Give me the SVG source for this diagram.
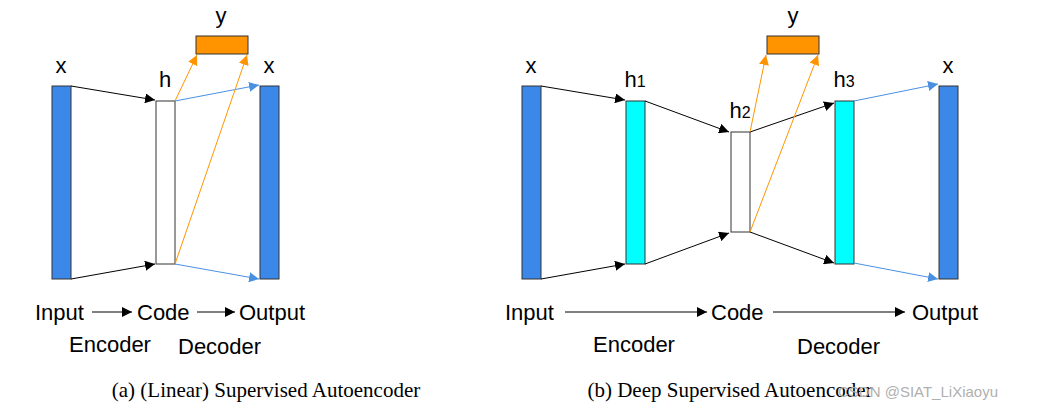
<svg xmlns="http://www.w3.org/2000/svg" width="1038" height="412" viewBox="0 0 1038 412">
<style>
text{font-family:"Liberation Sans",Arial,sans-serif;fill:#000}
.lbl{font-size:22px;text-anchor:middle}
.bot{font-size:22px}
.cap{font-family:"Liberation Serif","Times New Roman",serif;font-size:21px;text-anchor:middle}
.in{fill:#3b88e8;stroke:#333;stroke-width:1}
.hid{fill:#00ffff;stroke:#333;stroke-width:1}
.code{fill:#fff;stroke:#333;stroke-width:1}
.y{fill:#ff9400;stroke:#333;stroke-width:1}
.k{stroke:#000;stroke-width:1;fill:none;marker-end:url(#mk)}
.b{stroke:#4a90e2;stroke-width:1;fill:none;marker-end:url(#mb)}
.o{stroke:#ff9400;stroke-width:1;fill:none;marker-end:url(#mo)}
</style>
<defs>
<marker id="mk" viewBox="0 0 10 10" refX="10" refY="5" markerWidth="10" markerHeight="10" markerUnits="userSpaceOnUse" orient="auto"><path d="M0,0L10,5L0,10z" fill="#000"/></marker>
<marker id="mb" viewBox="0 0 10 10" refX="10" refY="5" markerWidth="10" markerHeight="10" markerUnits="userSpaceOnUse" orient="auto"><path d="M0,0L10,5L0,10z" fill="#4a90e2"/></marker>
<marker id="mo" viewBox="0 0 10 10" refX="10" refY="5" markerWidth="10" markerHeight="10" markerUnits="userSpaceOnUse" orient="auto"><path d="M0,0L10,5L0,10z" fill="#ff9400"/></marker>
</defs>
<rect width="1038" height="412" fill="#fff"/>
<g id="a-x-in"><rect class="in" x="52" y="86" width="19" height="193"/><text class="lbl" x="61" y="73">x</text></g>
<g id="a-h"><rect class="code" x="156" y="101" width="19" height="163"/><text class="lbl" x="165" y="87">h</text></g>
<g id="a-x-out"><rect class="in" x="260" y="86" width="19" height="193"/><text class="lbl" x="269" y="73">x</text></g>
<g id="a-y"><rect class="y" x="196" y="36" width="52" height="18"/><text class="lbl" x="221" y="23">y</text></g>
<g id="b-x-in"><rect class="in" x="522" y="86" width="19" height="193"/><text class="lbl" x="531" y="73">x</text></g>
<g id="b-h1"><rect class="hid" x="626" y="101" width="19" height="163"/><text class="lbl" x="635" y="87">h<tspan font-size="16">1</tspan></text></g>
<g id="b-h2"><rect class="code" x="731" y="132" width="19" height="100"/><text class="lbl" x="740" y="118">h<tspan font-size="16">2</tspan></text></g>
<g id="b-h3"><rect class="hid" x="835" y="101" width="19" height="163"/><text class="lbl" x="844" y="87">h<tspan font-size="16">3</tspan></text></g>
<g id="b-x-out"><rect class="in" x="939" y="86" width="19" height="193"/><text class="lbl" x="948" y="73">x</text></g>
<g id="b-y"><rect class="y" x="767" y="36" width="52" height="18"/><text class="lbl" x="793" y="23">y</text></g>
<g id="connectors">
<line class="k" x1="71" y1="86" x2="155" y2="100"/>
<line class="k" x1="71" y1="279" x2="155" y2="264"/>
<line class="b" x1="175" y1="101" x2="259" y2="85"/>
<line class="b" x1="175" y1="264" x2="259" y2="279"/>
<line class="o" x1="175" y1="101" x2="197" y2="55"/>
<line class="o" x1="175" y1="264" x2="247" y2="55"/>
<line class="k" x1="541" y1="86" x2="625" y2="100"/>
<line class="k" x1="541" y1="279" x2="625" y2="264"/>
<line class="k" x1="645" y1="101" x2="729" y2="132"/>
<line class="k" x1="645" y1="264" x2="729" y2="233"/>
<line class="k" x1="750" y1="132" x2="834" y2="103"/>
<line class="k" x1="750" y1="232" x2="834" y2="263"/>
<line class="b" x1="854" y1="101" x2="938" y2="84"/>
<line class="b" x1="854" y1="263" x2="938" y2="279"/>
<line class="o" x1="750" y1="132" x2="766" y2="55"/>
<line class="o" x1="750" y1="232" x2="818" y2="55"/>
<line class="k" x1="92" y1="312" x2="132" y2="312"/>
<line class="k" x1="197" y1="312" x2="235" y2="312"/>
<line class="k" x1="565" y1="312" x2="707" y2="312"/>
<line class="k" x1="773" y1="312" x2="905" y2="312"/>
</g>
<g id="labels">
<text class="bot" x="35" y="320">Input</text>
<text class="bot" x="137" y="320">Code</text>
<text class="bot" x="239" y="320">Output</text>
<text class="bot" x="69" y="352">Encoder</text>
<text class="bot" x="178" y="354">Decoder</text>
<text class="bot" x="505" y="320">Input</text>
<text class="bot" x="711" y="320">Code</text>
<text class="bot" x="912" y="320">Output</text>
<text class="bot" x="593" y="352">Encoder</text>
<text class="bot" x="797" y="354">Decoder</text>
<text class="cap" x="266" y="397">(a) (Linear) Supervised Autoencoder</text>
<text class="cap" x="730" y="397">(b) Deep Supervised Autoencoder</text>
<text x="838" y="397" font-size="15" style="fill:#b0b0b0">CSDN @SIAT_LiXiaoyu</text>
</g>
</svg>
